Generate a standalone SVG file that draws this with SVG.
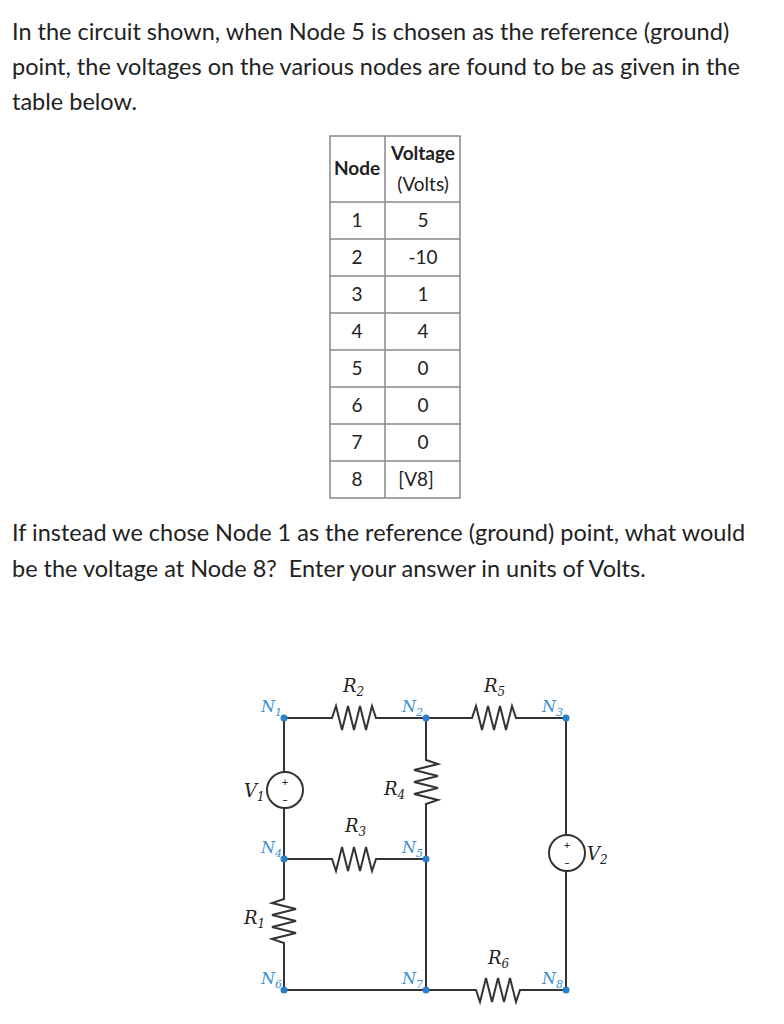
<svg xmlns="http://www.w3.org/2000/svg" width="784" height="1024" viewBox="0 0 784 1024">
<style>
.t{font-family:Lato,"Open Sans",sans-serif;font-size:23.5px;fill:#222;white-space:pre}
.c{font-family:Lato,sans-serif;font-size:19px;fill:#222;text-anchor:middle}
.h{font-family:Lato,sans-serif;font-size:19px;font-weight:bold;fill:#222;text-anchor:middle}
.g{stroke:#888;stroke-width:1.5;fill:none}
.w{stroke:#333;stroke-width:2;fill:none}
.lab{font-family:"DejaVu Serif",serif;font-style:italic;font-size:18px;fill:#222}
.n{font-family:"DejaVu Serif",serif;font-style:italic;font-size:16px;fill:#3a8fd0}
.d{fill:#2a7fc8}
</style>
<rect width="784" height="1024" fill="#fff"/>
<text class="t" x="12" y="40">In the circuit shown, when Node 5 is chosen as the reference (ground)</text>
<text class="t" x="12" y="75">point, the voltages on the various nodes are found to be as given in the</text>
<text class="t" x="12" y="110">table below.</text>
<g id="table">
<rect class="g" x="330" y="136" width="130" height="362"/>
<line class="g" x1="385" y1="136" x2="385" y2="498"/>
<g class="g">
<line x1="330" y1="202" x2="460" y2="202"/><line x1="330" y1="239" x2="460" y2="239"/><line x1="330" y1="276" x2="460" y2="276"/><line x1="330" y1="313" x2="460" y2="313"/><line x1="330" y1="350" x2="460" y2="350"/><line x1="330" y1="387" x2="460" y2="387"/><line x1="330" y1="424" x2="460" y2="424"/><line x1="330" y1="461" x2="460" y2="461"/>
</g>
<text class="h" x="357" y="175">Node</text>
<text class="h" x="423" y="160">Voltage</text>
<text class="c" x="423" y="191">(Volts)</text>
<text class="c" x="357" y="227">1</text><text class="c" x="423" y="227">5</text>
<text class="c" x="357" y="264">2</text><text class="c" x="423" y="264">-10</text>
<text class="c" x="357" y="301">3</text><text class="c" x="423" y="301">1</text>
<text class="c" x="357" y="338">4</text><text class="c" x="423" y="338">4</text>
<text class="c" x="357" y="375">5</text><text class="c" x="423" y="375">0</text>
<text class="c" x="357" y="412">6</text><text class="c" x="423" y="412">0</text>
<text class="c" x="357" y="449">7</text><text class="c" x="423" y="449">0</text>
<text class="c" x="357" y="486">8</text><text class="c" x="416" y="486">[V8]</text>
</g>
<text class="t" x="12" y="541">If instead we chose Node 1 as the reference (ground) point, what would</text>
<text class="t" x="12" y="577">be the voltage at Node 8?  Enter your answer in units of Volts.</text>
<g id="connectors">
<path class="w" d="M284 718H332 l4 -12 l6 24 l6 -24 l6 24 l6 -24 l6 24 l6 -24 l4 12 H472 l4 -12 l6 24 l6 -24 l6 24 l6 -24 l6 24 l6 -24 l4 12 H566 V835"/>
<path class="w" d="M566 871V990H520 l-4 12 l-6 -24 l-6 24 l-6 -24 l-6 24 l-6 -24 l-6 24 l-4 -12 H284 V943 l-12 -4 l24 -6 l-24 -6 l24 -6 l-24 -6 l24 -6 l-24 -6 l12 -4 V859 H332 l4 12 l6 -24 l6 24 l6 -24 l6 24 l6 -24 l6 24 l4 -12 H426 V990"/>
<path class="w" d="M284 718V772M284 808V859"/>
<path class="w" d="M426 718V760 l12 4 l-24 6 l24 6 l-24 6 l24 6 l-24 6 l24 6 l-12 4 V859"/>
</g>
<g id="V1"><circle class="w" cx="285" cy="790" r="18"/><text x="285" y="785" font-size="9" text-anchor="middle" font-family="DejaVu Sans">+</text><text x="285" y="803" font-size="10" text-anchor="middle" font-family="DejaVu Sans">–</text><text class="lab" x="244" y="797">V<tspan font-size="12" dy="4">1</tspan></text></g>
<g id="V2"><circle class="w" cx="567" cy="853" r="18"/><text x="567" y="848" font-size="9" text-anchor="middle" font-family="DejaVu Sans">+</text><text x="567" y="866" font-size="10" text-anchor="middle" font-family="DejaVu Sans">–</text><text class="lab" x="587" y="860">V<tspan font-size="12" dy="4">2</tspan></text></g>
<g id="R"><text class="lab" x="343" y="692">R<tspan font-size="12" dy="4">2</tspan></text>
<text class="lab" x="484" y="692">R<tspan font-size="12" dy="4">5</tspan></text>
<text class="lab" x="384" y="795">R<tspan font-size="12" dy="4">4</tspan></text>
<text class="lab" x="345" y="832">R<tspan font-size="12" dy="4">3</tspan></text>
<text class="lab" x="244" y="924">R<tspan font-size="12" dy="4">1</tspan></text>
<text class="lab" x="488" y="964">R<tspan font-size="12" dy="4">6</tspan></text></g>
<g id="nodes">
<circle class="d" cx="284" cy="718" r="3.5"/><text class="n" x="261" y="712">N<tspan font-size="11" dy="4">1</tspan></text>
<circle class="d" cx="426" cy="718" r="3.5"/><text class="n" x="402" y="712">N<tspan font-size="11" dy="4">2</tspan></text>
<circle class="d" cx="566" cy="718" r="3.5"/><text class="n" x="542" y="712">N<tspan font-size="11" dy="4">3</tspan></text>
<circle class="d" cx="284" cy="859" r="3.5"/><text class="n" x="261" y="853">N<tspan font-size="11" dy="4">4</tspan></text>
<circle class="d" cx="426" cy="859" r="3.5"/><text class="n" x="402" y="853">N<tspan font-size="11" dy="4">5</tspan></text>
<circle class="d" cx="284" cy="990" r="3.5"/><text class="n" x="261" y="984">N<tspan font-size="11" dy="4">6</tspan></text>
<circle class="d" cx="426" cy="990" r="3.5"/><text class="n" x="402" y="984">N<tspan font-size="11" dy="4">7</tspan></text>
<circle class="d" cx="566" cy="990" r="3.5"/><text class="n" x="542" y="984">N<tspan font-size="11" dy="4">8</tspan></text>
</g>
</svg>
